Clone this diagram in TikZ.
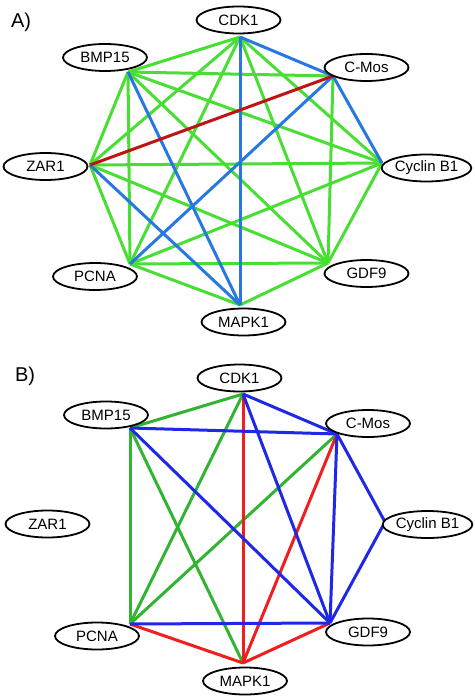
\documentclass[tikz,border=0pt]{standalone}
\usepackage{fontspec}
\setmainfont{Liberation Sans}
\usetikzlibrary{shapes.geometric}
\definecolor{agreen}{RGB}{72,222,52}
\definecolor{ablue}{RGB}{40,120,225}
\definecolor{ared}{RGB}{190,20,20}
\definecolor{bgreen}{RGB}{50,180,50}
\definecolor{bblue}{RGB}{30,40,230}
\definecolor{bred}{RGB}{240,30,30}
\tikzset{
  gene/.style={draw=black, line width=1.8pt, ellipse, fill=white, minimum width=84pt, minimum height=27pt, inner sep=0pt, font=\fontsize{15}{17}\selectfont},
  panel/.style={font=\fontsize{20}{22}\selectfont},
  link/.style={line width=3pt},
}
\begin{document}
\begin{tikzpicture}[x=1pt,y=-1pt]
\useasboundingbox (0,0) rectangle (474,700);
% ---------- Panel A ----------
\node[panel] (labA) at (21,22) {A)};
\coordinate (hA1) at (240,37);   % CDK1
\coordinate (hA2) at (128,72);   % BMP15
\coordinate (hA3) at (333,76);   % C-Mos
\coordinate (hA4) at (90,165);   % ZAR1
\coordinate (hA5) at (382,163);  % Cyclin B1
\coordinate (hA6) at (130,264);  % PCNA
\coordinate (hA7) at (328,263);  % GDF9
\coordinate (hA8) at (240,305);  % MAPK1
\begin{scope}[link, agreen]
\draw (hA1) -- (hA2);
\draw (hA1) -- (hA4);
\draw (hA1) -- (hA6);
\draw (hA1) -- (hA7);
\draw (hA1) -- (hA5);
\draw (hA2) -- (hA3);
\draw (hA2) -- (hA5);
\draw (hA2) -- (hA7);
\draw (hA2) -- (hA6);
\draw (hA2) -- (hA4);
\draw (hA3) -- (hA7);
\draw (hA4) -- (hA5);
\draw (hA4) -- (hA7);
\draw (hA4) -- (hA6);
\draw (hA5) -- (hA7);
\draw (hA5) -- (hA6);
\draw (hA6) -- (hA7);
\draw (hA6) -- (hA8);
\draw (hA7) -- (hA8);
\end{scope}
\begin{scope}[link, ablue]
\draw (hA1) -- (hA3);
\draw (hA1) -- (hA8);
\draw (hA2) -- (hA8);
\draw (hA4) -- (hA8);
\draw (hA3) -- (hA5);
\draw (hA3) -- (hA6);
\end{scope}
\draw[link, ared] (hA3) -- (hA4);
\node[gene] (aCDK) at (238.5,20) {CDK1};
\node[gene] (aBMP) at (105,57.5) {BMP15};
\node[gene] (aMOS) at (366.5,67.5) {C-Mos};
\node[gene] (aZAR) at (45.5,166.5) {ZAR1};
\node[gene] (aCYC) at (426.5,168) {Cyclin B1};
\node[gene] (aPCN) at (95,276.5) {PCNA};
\node[gene] (aGDF) at (366.5,273.5) {GDF9};
\node[gene] (aMAP) at (243.5,322) {MAPK1};
% ---------- Panel B ----------
\node[panel] (labB) at (25,376) {B)};
\coordinate (hB1) at (243,394);  % CDK1
\coordinate (hB2) at (130,428);  % BMP15
\coordinate (hB3) at (337,434);  % C-Mos
\coordinate (hB5) at (385,522);  % Cyclin B1
\coordinate (hB6) at (130,624);  % PCNA
\coordinate (hB7) at (330,623);  % GDF9
\coordinate (hB8) at (243,663);  % MAPK1
\begin{scope}[link, bgreen]
\draw (hB1) -- (hB2);
\draw (hB1) -- (hB6);
\draw (hB2) -- (hB6);
\draw (hB2) -- (hB8);
\draw (hB3) -- (hB6);
\end{scope}
\begin{scope}[link, bred]
\draw (hB1) -- (hB8);
\draw (hB3) -- (hB8);
\draw (hB6) -- (hB8);
\draw (hB7) -- (hB8);
\end{scope}
\begin{scope}[link, bblue]
\draw (hB1) -- (hB3);
\draw (hB1) -- (hB7);
\draw (hB2) -- (hB3);
\draw (hB2) -- (hB7);
\draw (hB3) -- (hB7);
\draw (hB3) -- (hB5);
\draw (hB5) -- (hB7);
\draw (hB6) -- (hB7);
\end{scope}
\node[gene] (bCDK) at (239.5,378) {CDK1};
\node[gene] (bBMP) at (106,415) {BMP15};
\node[gene] (bMOS) at (368,423.5) {C-Mos};
\node[gene] (bZAR) at (47.5,524) {ZAR1};
\node[gene] (bCYC) at (427.5,524.5) {Cyclin B1};
\node[gene] (bPCN) at (97,636) {PCNA};
\node[gene] (bGDF) at (368,632) {GDF9};
\node[gene] (bMAP) at (245,681) {MAPK1};
\end{tikzpicture}
\end{document}
